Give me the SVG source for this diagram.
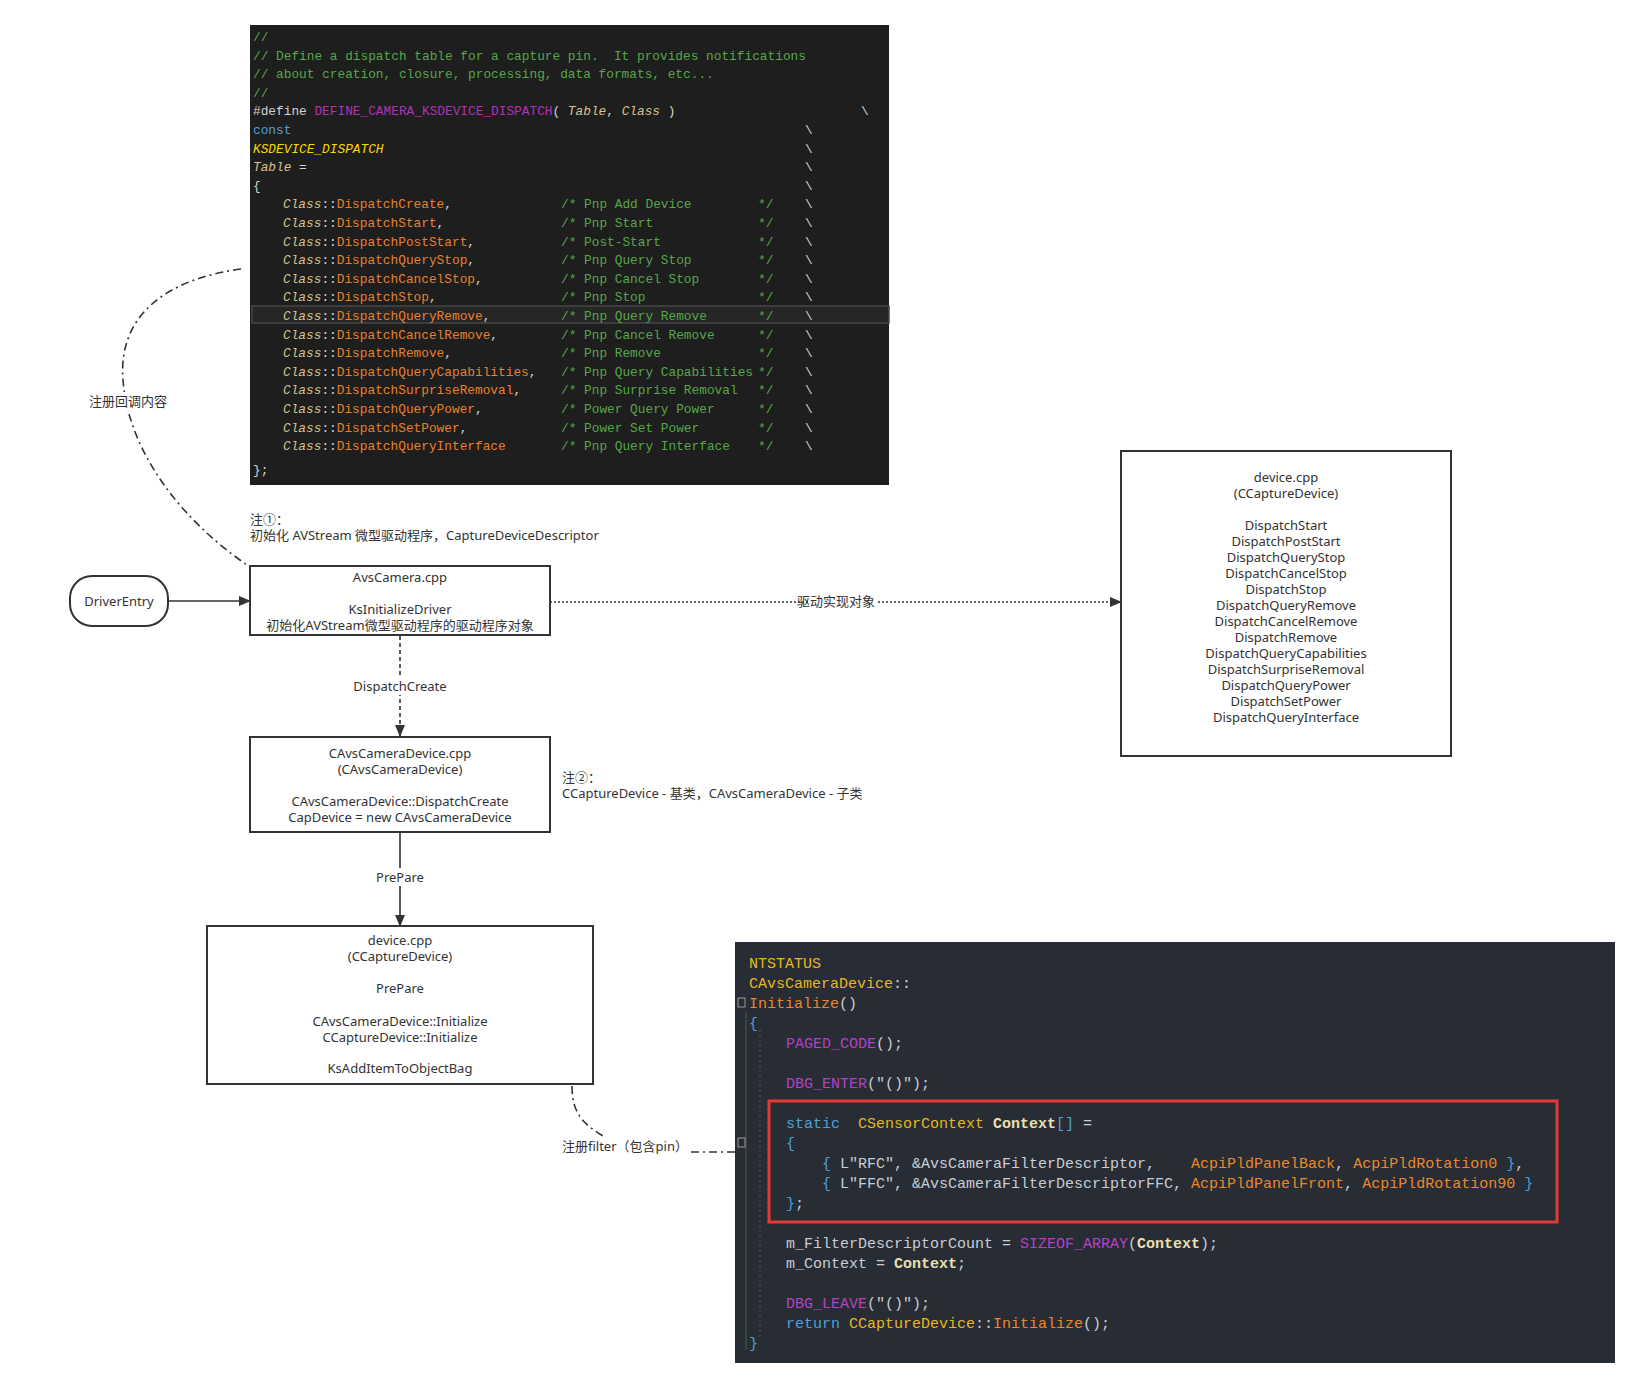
<svg xmlns="http://www.w3.org/2000/svg" width="1642" height="1390" viewBox="0 0 1642 1390">
<defs>
<style>
.lbl{font-family:"Noto Sans","Noto Sans CJK SC",sans-serif;font-size:13px;fill:#333}
.c{text-anchor:middle}
.box{fill:#fff;stroke:#333;stroke-width:2}
.mono{font-family:"Liberation Mono","DejaVu Sans Mono",monospace;font-size:12.8px;fill:#d4d4d4;white-space:pre}
.m2{font-family:"Liberation Mono","DejaVu Sans Mono",monospace;font-size:15px;fill:#c8ccd4;white-space:pre}
.cm{fill:#57a64a}.mg{fill:#b530b5}.it{font-style:italic;fill:#d8c48a}.or{fill:#e8802a}.bl{fill:#569cd6}.ye{fill:#ffd700;font-style:italic}
.gd{fill:#e5b820}.o2{fill:#e8892b}.pu{fill:#b540c8}.b2{fill:#4fa0d8}.cx{fill:#e8e0b0;font-weight:bold}
.edge{fill:none;stroke:#333;stroke-width:1.6}
</style>
<marker id="ah" markerWidth="12" markerHeight="10" refX="11" refY="5" orient="auto" markerUnits="userSpaceOnUse"><path d="M0,0 L12,5 L0,10 Z" fill="#333"/></marker>
</defs>
<rect width="1642" height="1390" fill="#fff"/>

<g id="code-top">
<rect x="250" y="25" width="639" height="460" fill="#1e1e1e"/>
<rect x="252" y="306" width="637" height="17" fill="#262626" stroke="#474747" stroke-width="1.5"/>
<g class="mono">
<text x="253" y="41" class="cm">//</text>
<text x="253" y="59.6" class="cm" xml:space="preserve">// Define a dispatch table for a capture pin.  It provides notifications</text>
<text x="253" y="78.2" class="cm">// about creation, closure, processing, data formats, etc...</text>
<text x="253" y="96.8" class="cm">//</text>
<text x="253" y="115.4" xml:space="preserve">#define <tspan class="mg">DEFINE_CAMERA_KSDEVICE_DISPATCH</tspan>( <tspan class="it">Table</tspan>, <tspan class="it">Class</tspan> )</text>
<text x="253" y="134" class="bl">const</text>
<text x="253" y="152.6" class="ye">KSDEVICE_DISPATCH</text>
<text x="253" y="171.2" xml:space="preserve"><tspan class="it">Table</tspan> =</text>
<text x="253" y="189.8">{</text>
<text x="253" y="474.4">};</text>
<text x="861" y="115.4">\</text>
<text x="805" y="134">\</text><text x="805" y="152.6">\</text><text x="805" y="171.2">\</text><text x="805" y="189.8">\</text>
</g>
<g class="mono">
<text x="283" y="208.4"><tspan class="it">Class</tspan>::<tspan class="or">DispatchCreate</tspan>,</text>
<text x="283" y="227"><tspan class="it">Class</tspan>::<tspan class="or">DispatchStart</tspan>,</text>
<text x="283" y="245.6"><tspan class="it">Class</tspan>::<tspan class="or">DispatchPostStart</tspan>,</text>
<text x="283" y="264.2"><tspan class="it">Class</tspan>::<tspan class="or">DispatchQueryStop</tspan>,</text>
<text x="283" y="282.8"><tspan class="it">Class</tspan>::<tspan class="or">DispatchCancelStop</tspan>,</text>
<text x="283" y="301.4"><tspan class="it">Class</tspan>::<tspan class="or">DispatchStop</tspan>,</text>
<text x="283" y="320"><tspan class="it">Class</tspan>::<tspan class="or">DispatchQueryRemove</tspan>,</text>
<text x="283" y="338.6"><tspan class="it">Class</tspan>::<tspan class="or">DispatchCancelRemove</tspan>,</text>
<text x="283" y="357.2"><tspan class="it">Class</tspan>::<tspan class="or">DispatchRemove</tspan>,</text>
<text x="283" y="375.8"><tspan class="it">Class</tspan>::<tspan class="or">DispatchQueryCapabilities</tspan>,</text>
<text x="283" y="394.4"><tspan class="it">Class</tspan>::<tspan class="or">DispatchSurpriseRemoval</tspan>,</text>
<text x="283" y="413"><tspan class="it">Class</tspan>::<tspan class="or">DispatchQueryPower</tspan>,</text>
<text x="283" y="431.6"><tspan class="it">Class</tspan>::<tspan class="or">DispatchSetPower</tspan>,</text>
<text x="283" y="450.2"><tspan class="it">Class</tspan>::<tspan class="or">DispatchQueryInterface</tspan></text>
</g>
<g class="mono cm">
<text x="561" y="208.4">/* Pnp Add Device</text>
<text x="561" y="227">/* Pnp Start</text>
<text x="561" y="245.6">/* Post-Start</text>
<text x="561" y="264.2">/* Pnp Query Stop</text>
<text x="561" y="282.8">/* Pnp Cancel Stop</text>
<text x="561" y="301.4">/* Pnp Stop</text>
<text x="561" y="320">/* Pnp Query Remove</text>
<text x="561" y="338.6">/* Pnp Cancel Remove</text>
<text x="561" y="357.2">/* Pnp Remove</text>
<text x="561" y="375.8">/* Pnp Query Capabilities</text>
<text x="561" y="394.4">/* Pnp Surprise Removal</text>
<text x="561" y="413">/* Power Query Power</text>
<text x="561" y="431.6">/* Power Set Power</text>
<text x="561" y="450.2">/* Pnp Query Interface</text>
</g>
<g class="mono">
<text x="758" y="208.4" class="cm">*/</text><text x="805" y="208.4">\</text>
<text x="758" y="227" class="cm">*/</text><text x="805" y="227">\</text>
<text x="758" y="245.6" class="cm">*/</text><text x="805" y="245.6">\</text>
<text x="758" y="264.2" class="cm">*/</text><text x="805" y="264.2">\</text>
<text x="758" y="282.8" class="cm">*/</text><text x="805" y="282.8">\</text>
<text x="758" y="301.4" class="cm">*/</text><text x="805" y="301.4">\</text>
<text x="758" y="320" class="cm">*/</text><text x="805" y="320">\</text>
<text x="758" y="338.6" class="cm">*/</text><text x="805" y="338.6">\</text>
<text x="758" y="357.2" class="cm">*/</text><text x="805" y="357.2">\</text>
<text x="758" y="375.8" class="cm">*/</text><text x="805" y="375.8">\</text>
<text x="758" y="394.4" class="cm">*/</text><text x="805" y="394.4">\</text>
<text x="758" y="413" class="cm">*/</text><text x="805" y="413">\</text>
<text x="758" y="431.6" class="cm">*/</text><text x="805" y="431.6">\</text>
<text x="758" y="450.2" class="cm">*/</text><text x="805" y="450.2">\</text>
</g>
</g>

<g id="code-bottom">
<rect x="735" y="942" width="880" height="421" fill="#282c34"/>
<line x1="746" y1="1012" x2="746" y2="1350" stroke="#4a5a4a" stroke-width="1"/>
<line x1="760" y1="1030" x2="760" y2="1340" stroke="#555" stroke-width="1" stroke-dasharray="2,3"/>
<rect x="738" y="998" width="7" height="9" fill="none" stroke="#999" stroke-width="1"/>
<rect x="738" y="1138" width="7" height="9" fill="none" stroke="#999" stroke-width="1"/>
<g class="m2">
<text x="749" y="968" class="gd">NTSTATUS</text>
<text x="749" y="988"><tspan class="gd">CAvsCameraDevice</tspan>::</text>
<text x="749" y="1008"><tspan class="o2">Initialize</tspan>()</text>
<text x="749" y="1028" class="b2">{</text>
<text x="786" y="1048"><tspan class="pu">PAGED_CODE</tspan>();</text>
<text x="786" y="1088"><tspan class="pu">DBG_ENTER</tspan>("()");</text>
<text x="786" y="1128" xml:space="preserve"><tspan class="b2">static</tspan>  <tspan class="gd">CSensorContext</tspan> <tspan class="cx">Context</tspan><tspan class="b2">[]</tspan> =</text>
<text x="786" y="1148" class="b2">{</text>
<text x="822" y="1168" xml:space="preserve"><tspan class="b2">{</tspan> L"RFC", &amp;AvsCameraFilterDescriptor,    <tspan class="o2">AcpiPldPanelBack</tspan>, <tspan class="o2">AcpiPldRotation0</tspan> <tspan class="b2">}</tspan>,</text>
<text x="822" y="1188" xml:space="preserve"><tspan class="b2">{</tspan> L"FFC", &amp;AvsCameraFilterDescriptorFFC, <tspan class="o2">AcpiPldPanelFront</tspan>, <tspan class="o2">AcpiPldRotation90</tspan> <tspan class="b2">}</tspan></text>
<text x="786" y="1208"><tspan class="b2">}</tspan>;</text>
<text x="786" y="1248" xml:space="preserve">m_FilterDescriptorCount = <tspan class="pu">SIZEOF_ARRAY</tspan>(<tspan class="cx">Context</tspan>);</text>
<text x="786" y="1268" xml:space="preserve">m_Context = <tspan class="cx">Context</tspan>;</text>
<text x="786" y="1308"><tspan class="pu">DBG_LEAVE</tspan>("()");</text>
<text x="786" y="1328" xml:space="preserve"><tspan class="b2">return</tspan> <tspan class="gd">CCaptureDevice</tspan>::<tspan class="o2">Initialize</tspan>();</text>
<text x="749" y="1348" class="b2">}</text>
</g>
<rect x="769" y="1101" width="788" height="121" fill="none" stroke="#e53935" stroke-width="3"/>
</g>

<g id="connectors">
<path class="edge" d="M241,269 C160,280 118,320 123,380 C128,450 180,520 250,567" stroke-dasharray="8,4,2,4"/>
<path class="edge" d="M168,601 L250,601" marker-end="url(#ah)"/>
<path class="edge" d="M550,602 L1121,602" stroke-dasharray="2,2" marker-end="url(#ah)"/>
<path class="edge" d="M400,636 L400,736" stroke-dasharray="4,3" marker-end="url(#ah)"/>
<path class="edge" d="M400,832 L400,926" marker-end="url(#ah)"/>
<path class="edge" d="M572,1086 C572,1115 585,1125 603,1136" stroke-dasharray="8,4,2,4"/>
<path class="edge" d="M691,1152 L735,1152" stroke-dasharray="8,4,2,4"/>
<rect x="808" y="592" width="68" height="18" fill="#fff"/>
<text class="lbl c" x="836" y="606">驱动实现对象</text>
<rect x="350" y="677" width="100" height="18" fill="#fff"/>
<text class="lbl c" x="400" y="691">DispatchCreate</text>
<rect x="370" y="868" width="60" height="18" fill="#fff"/>
<text class="lbl c" x="400" y="882">PrePare</text>
<rect x="88" y="392" width="80" height="18" fill="#fff"/>
<text class="lbl c" x="128" y="406">注册回调内容</text>
<text class="lbl" x="562" y="1151">注册filter（包含pin）</text>
</g>

<g id="driverentry">
<rect x="70" y="576" width="98" height="50" rx="22" class="box"/>
<text class="lbl c" x="119" y="606">DriverEntry</text>
</g>

<g id="note1">
<text class="lbl" x="250" y="524">注①：</text>
<text class="lbl" x="250" y="540">初始化 AVStream 微型驱动程序，CaptureDeviceDescriptor</text>
</g>

<g id="avscamera">
<rect x="250" y="566" width="300" height="69" class="box"/>
<text class="lbl c" x="400" y="582">AvsCamera.cpp</text>
<text class="lbl c" x="400" y="614">KsInitializeDriver</text>
<text class="lbl c" x="400" y="630">初始化AVStream微型驱动程序的驱动程序对象</text>
</g>

<g id="cavscameradevice">
<rect x="250" y="737" width="300" height="95" class="box"/>
<text class="lbl c" x="400" y="758">CAvsCameraDevice.cpp</text>
<text class="lbl c" x="400" y="774">(CAvsCameraDevice)</text>
<text class="lbl c" x="400" y="806">CAvsCameraDevice::DispatchCreate</text>
<text class="lbl c" x="400" y="822">CapDevice = new CAvsCameraDevice</text>
</g>

<g id="note2">
<text class="lbl" x="562" y="782">注②：</text>
<text class="lbl" x="562" y="798">CCaptureDevice - 基类，CAvsCameraDevice - 子类</text>
</g>

<g id="device-left">
<rect x="207" y="926" width="386" height="158" class="box"/>
<text class="lbl c" x="400" y="945">device.cpp</text>
<text class="lbl c" x="400" y="961">(CCaptureDevice)</text>
<text class="lbl c" x="400" y="993">PrePare</text>
<text class="lbl c" x="400" y="1026">CAvsCameraDevice::Initialize</text>
<text class="lbl c" x="400" y="1042">CCaptureDevice::Initialize</text>
<text class="lbl c" x="400" y="1073">KsAddItemToObjectBag</text>
</g>

<g id="device-right">
<rect x="1121" y="451" width="330" height="305" class="box"/>
<g class="lbl c">
<text x="1286" y="482">device.cpp</text>
<text x="1286" y="498">(CCaptureDevice)</text>
<text x="1286" y="530">DispatchStart</text>
<text x="1286" y="546">DispatchPostStart</text>
<text x="1286" y="562">DispatchQueryStop</text>
<text x="1286" y="578">DispatchCancelStop</text>
<text x="1286" y="594">DispatchStop</text>
<text x="1286" y="610">DispatchQueryRemove</text>
<text x="1286" y="626">DispatchCancelRemove</text>
<text x="1286" y="642">DispatchRemove</text>
<text x="1286" y="658">DispatchQueryCapabilities</text>
<text x="1286" y="674">DispatchSurpriseRemoval</text>
<text x="1286" y="690">DispatchQueryPower</text>
<text x="1286" y="706">DispatchSetPower</text>
<text x="1286" y="722">DispatchQueryInterface</text>
</g>
</g>
</svg>
